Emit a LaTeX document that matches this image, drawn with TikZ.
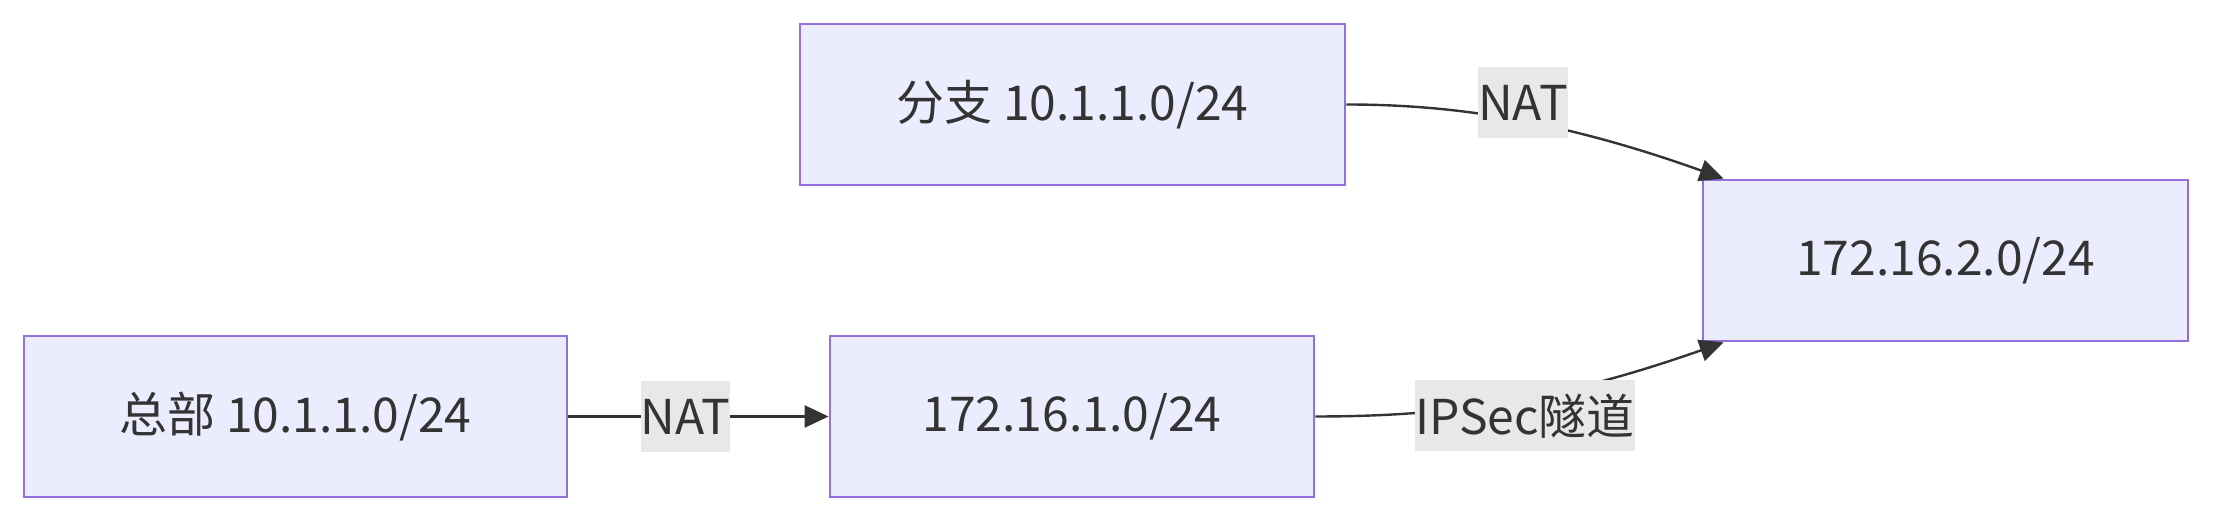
\documentclass[tikz,border=0pt]{standalone}
\usepackage{fontspec}
\setmainfont{Noto Sans CJK SC}
\usepackage{xcolor}
\usetikzlibrary{arrows.meta}

\definecolor{boxfill}{HTML}{ECECFF}
\definecolor{boxline}{HTML}{9370DB}
\definecolor{labelbg}{HTML}{E8E8E8}
\definecolor{linegray}{HTML}{333333}

\tikzset{
	netbox/.style={draw=boxline, fill=boxfill, line width=1.4pt, minimum height=80.5pt,
		text=linegray, font=\fontsize{24}{29}\selectfont},
	edgelabel/.style={fill=labelbg, inner xsep=0pt, minimum height=35.5pt,
		text=linegray, font=\fontsize{24}{29}\selectfont},
	link/.style={draw=linegray, line width=1.2pt, -{Triangle[length=12pt,width=11pt]}},
}

\begin{document}
\begin{tikzpicture}[x=0.5pt,y=-0.5pt]
			\useasboundingbox (0,0) rectangle (2213,522);
			
			% Knoten zeichnen
			\node[netbox, minimum width=272.5pt] (Branch) at (1072.5,104.5) {分支 10.1.1.0/24};
			\node[netbox, minimum width=242.5pt] (NetB) at (1945.5,260.5) {172.16.2.0/24};
			\node[netbox, minimum width=271.5pt] (HQ) at (295.5,416.5) {总部 10.1.1.0/24};
			\node[netbox, minimum width=242pt] (NetA) at (1072,416.5) {172.16.1.0/24};
			
			% Verbindungen zeichnen
			\draw[link] (HQ.east) -- (NetA.west) node[edgelabel, pos=0.45] (natA) {NAT};
			\draw[link] (Branch.east) .. controls +(105,0) and +(-165,-59) .. ([xshift=11pt]NetB.north west);
			\draw[link] (NetA.east) .. controls +(136,0) and +(-165,58) .. ([xshift=11pt]NetB.south west);
			
			% Beschriftungen der Kanten
			\node[edgelabel] (natB) at (1523,103) {NAT};
			\node[edgelabel] (tunnel) at (1525,416) {IPSec隧道};
	\end{tikzpicture}
\end{document}
